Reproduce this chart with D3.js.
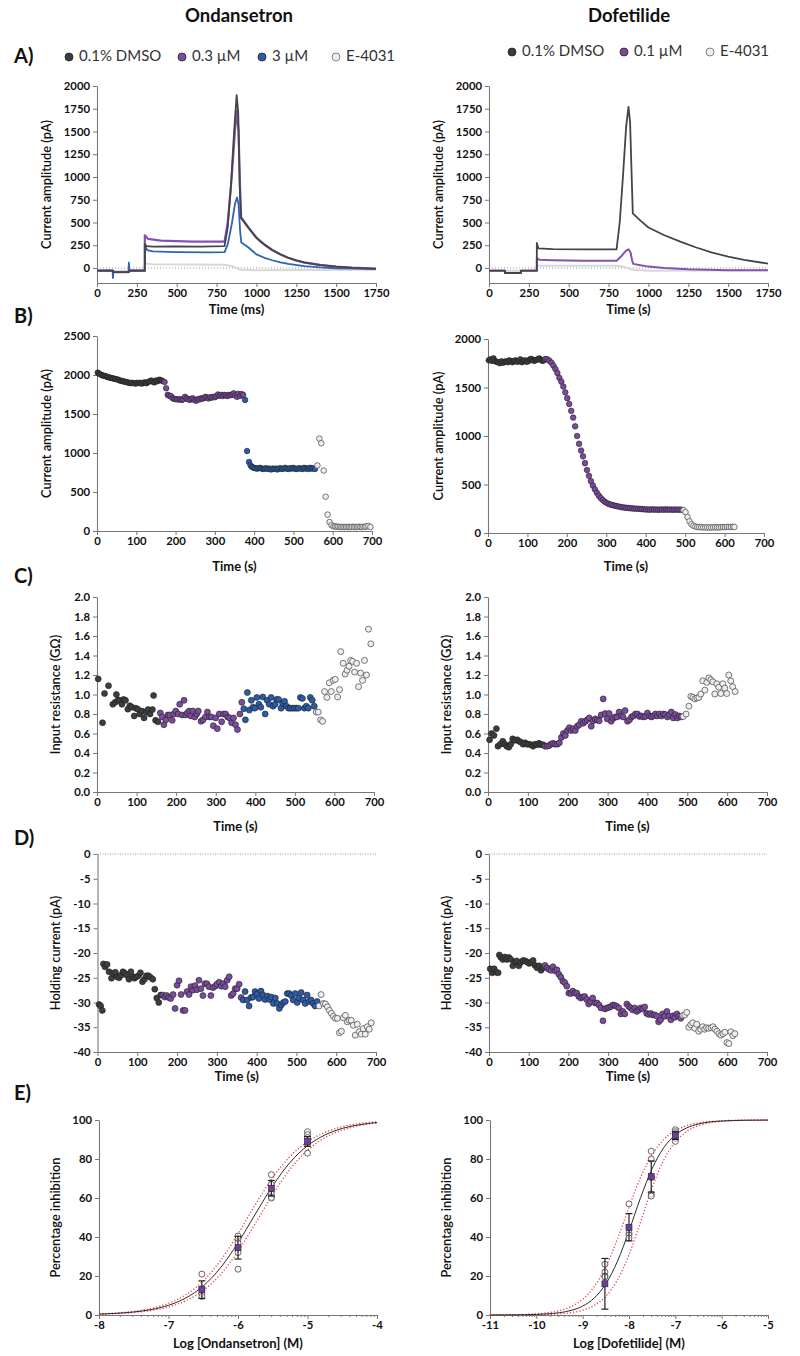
<!DOCTYPE html>
<html><head><meta charset="utf-8">
<script src="https://cdn.jsdelivr.net/npm/d3@7"></script>
<style>body{margin:0;background:#fff}svg{display:block}</style>
</head><body>
<svg id="c" width="800" height="1356"></svg>
<script>
// ---------------- DATA ----------------
const drugs = ["Ondansetron", "Dofetilide"];
const legendLeft = ["0.1% DMSO", "0.3 µM", "3 µM", "E-4031"];
const legendRight = ["0.1% DMSO", "0.1 µM", "E-4031"];
const traceTicks = [0,250,500,750,1000,1250,1500,1750];
const traceYTicks = [0,250,500,750,1000,1250,1500,1750,2000];
const timeTicks = [0,100,200,300,400,500,600,700];

// Panel A traces [time ms, current pA]
const aL_dmso = [[0,-30],[100,-30],[100,-45],[200,-45],[200,-30],[300,-30],[300,265],[310,240],[350,235],[500,238],[650,235],[800,240],[820,450],[840,900],[860,1500],[876,1900],[886,1700],[895,900],[903,550],[950,440],[1000,330],[1050,255],[1100,195],[1150,148],[1200,110],[1250,82],[1300,60],[1400,32],[1500,14],[1600,2],[1750,-10]];
const aL_p03 = [[0,-30],[100,-30],[100,-45],[200,-45],[200,-30],[300,-30],[300,360],[320,320],[400,300],[600,290],[800,290],[820,500],[845,1000],[865,1500],[877,1730],[888,1500],[897,900],[904,560],[950,445],[1000,335],[1050,258],[1100,198],[1150,150],[1200,112],[1250,85],[1300,62],[1400,35],[1500,16],[1600,4],[1750,-8]];
const aL_p3 = [[0,-30],[98,-30],[100,-110],[102,-45],[198,-45],[200,60],[202,-30],[300,-30],[300,250],[315,195],[350,182],[500,175],[700,172],[800,175],[820,260],[845,480],[865,700],[878,775],[888,700],[898,400],[905,280],[950,225],[1000,150],[1050,112],[1100,85],[1150,62],[1200,45],[1300,20],[1400,6],[1500,-3],[1750,-10]];
const aL_e4031 = [[0,-30],[300,-30],[300,50],[350,42],[800,35],[850,20],[900,-20],[1000,-25],[1750,-20]];
const aR_dmso = [[0,-30],[100,-30],[100,-55],[200,-55],[200,-30],[300,-30],[300,275],[310,215],[400,208],[600,205],[800,205],[820,500],[840,1000],[860,1550],[875,1770],[885,1600],[895,1000],[902,600],[950,520],[1000,445],[1100,360],[1200,290],[1300,225],[1400,170],[1500,125],[1600,90],[1750,48]];
const aR_p01 = [[0,-30],[100,-30],[100,-55],[200,-55],[200,-30],[300,-30],[300,110],[315,90],[400,85],[600,80],[800,80],[830,130],[860,190],[875,205],[888,170],[898,80],[905,45],[950,30],[1000,15],[1100,0],[1250,-15],[1500,-25],[1750,-25]];
const aR_e4031 = [[0,-30],[300,-30],[300,25],[800,25],[850,10],[900,-20],[1000,-30],[1750,-25]];

// Panel B: peak current [time s, pA]
const bL_dmso = [[2,2030],[6,2015],[10,2005],[14,1995],[18,1990],[22,1985],[26,1975],[30,1970],[34,1965],[38,1960],[42,1955],[46,1950],[50,1945],[54,1940],[58,1930],[62,1925],[66,1920],[70,1915],[74,1910],[78,1905],[82,1900],[86,1895],[90,1900],[94,1895],[98,1890],[102,1900],[106,1895],[110,1900],[114,1890],[118,1900],[122,1905],[126,1895],[130,1910],[134,1920],[138,1930],[142,1915],[146,1905],[150,1930],[154,1920],[158,1940],[162,1935],[166,1925]];
const bL_p03 = [[172,1910],[176,1830],[180,1745],[184,1735],[188,1730],[192,1705],[196,1695],[200,1690],[204,1690],[208,1685],[212,1690],[216,1680],[220,1690],[224,1720],[228,1700],[232,1690],[236,1680],[240,1695],[244,1700],[248,1680],[252,1670],[256,1690],[260,1685],[264,1700],[268,1695],[272,1705],[276,1720],[280,1710],[284,1700],[288,1715],[292,1710],[296,1720],[300,1715],[304,1730],[308,1750],[312,1735],[316,1745],[320,1730],[324,1745],[328,1740],[332,1730],[336,1745],[340,1740],[344,1750],[348,1765],[352,1740],[356,1720],[360,1760],[364,1730],[368,1755],[372,1745]];
const bL_p3 = [[377,1680],[382,1025],[387,885],[391,840],[395,820],[399,810],[403,805],[407,800],[411,805],[415,810],[419,800],[423,795],[427,800],[431,805],[435,795],[439,800],[443,790],[447,800],[451,795],[455,800],[459,790],[463,800],[467,805],[471,795],[475,800],[479,810],[483,800],[487,795],[491,805],[495,800],[499,810],[503,800],[507,795],[511,800],[515,805],[519,800],[523,795],[527,810],[531,800],[535,805],[539,795],[543,810],[547,800],[551,805],[555,795]];
const bL_e4031 = [[561,840],[566,1185],[571,1125],[577,775],[582,440],[587,210],[592,115],[597,75],[602,60],[606,58],[610,55],[614,55],[618,52],[622,50],[626,52],[630,50],[634,52],[638,50],[642,52],[646,50],[650,55],[654,50],[658,52],[662,50],[666,55],[670,52],[674,50],[678,55],[682,52],[686,60],[691,64],[696,51]];
const bR_dmso = [[2,1780],[6,1790],[10,1775],[14,1800],[18,1770],[22,1765],[26,1760],[30,1750],[34,1770],[38,1755],[42,1765],[46,1770],[50,1760],[54,1780],[58,1770],[62,1760],[66,1775],[70,1780],[74,1765],[78,1770],[82,1790],[86,1760],[90,1775],[94,1780],[98,1765],[102,1770],[106,1790],[110,1795],[114,1780],[118,1775],[122,1785],[126,1790],[130,1800],[134,1785],[138,1775],[142,1780]];
const bR_p01 = [[146,1795],[151,1790],[156,1775],[161,1755],[166,1725],[171,1690],[176,1650],[181,1600],[186,1560],[191,1510],[196,1450],[201,1390],[206,1330],[211,1260],[216,1190],[221,1100],[226,1000],[231,920],[236,850],[241,790],[246,720],[251,650],[256,590],[261,535],[266,490],[271,450],[276,415],[281,385],[286,360],[291,340],[296,322],[301,310],[306,300],[311,293],[316,288],[321,282],[326,278],[331,273],[336,268],[341,265],[346,262],[351,260],[356,258],[361,255],[366,254],[371,252],[376,250],[381,250],[386,248],[391,246],[396,245],[401,242],[406,243],[411,240],[416,244],[421,241],[426,242],[431,240],[436,241],[441,243],[446,240],[451,244],[456,240],[461,242],[466,241],[471,240],[476,243],[481,240],[486,241],[491,240]];
const bR_e4031 = [[496,235],[501,215],[506,165],[511,120],[516,90],[521,75],[526,66],[531,62],[536,60],[541,60],[546,58],[551,58],[556,57],[561,58],[566,57],[571,58],[576,60],[581,57],[586,58],[591,60],[596,62],[601,60],[606,63],[611,62],[616,62],[621,64],[625,62]];

// Panel C: input resistance [time s, GΩ]
const cL_dmso = [[3,1.16],[14,0.71],[19,1.01],[29,1.09],[40,0.90],[46,0.92],[49,1.00],[53,0.94],[57,0.94],[63,0.90],[67,0.95],[72,0.94],[78,0.85],[83,0.885],[88,0.87],[94,0.78],[98,0.86],[103,0.85],[108,0.80],[114,0.83],[119,0.76],[124,0.82],[129,0.845],[134,0.80],[140,0.845],[143,0.99],[148,0.735],[154,0.72]];
const cL_p03 = [[160,0.81],[165,0.77],[169,0.69],[174,0.74],[179,0.79],[184,0.79],[190,0.735],[194,0.80],[199,0.83],[205,0.80],[209,0.90],[215,0.79],[220,0.94],[224,0.79],[228,0.81],[233,0.83],[237,0.78],[242,0.83],[247,0.77],[252,0.80],[256,0.83],[263,0.725],[268,0.74],[274,0.77],[279,0.82],[284,0.77],[289,0.77],[294,0.68],[300,0.76],[304,0.65],[309,0.80],[315,0.72],[320,0.80],[325,0.80],[330,0.77],[335,0.76],[340,0.71],[345,0.76],[350,0.69],[355,0.64],[361,0.80],[366,0.92]];
const cL_p3 = [[371,0.855],[375,0.74],[380,1.02],[385,0.84],[390,0.94],[394,0.87],[399,0.86],[404,0.97],[409,0.90],[414,0.87],[419,0.975],[425,0.80],[430,0.94],[435,0.90],[440,0.97],[445,0.88],[450,0.90],[454,0.95],[459,0.95],[465,0.86],[469,0.91],[474,0.93],[479,0.88],[484,0.86],[489,0.86],[494,0.86],[499,0.86],[504,0.86],[509,0.86],[514,0.97],[519,0.96],[524,0.86],[529,0.88],[534,0.86],[539,0.97],[544,0.94],[549,0.88]];
const cL_e4031 = [[554,0.82],[559,0.82],[565,0.74],[570,0.725],[575,1.03],[581,0.97],[587,1.12],[592,1.03],[597,1.145],[602,1.155],[608,0.975],[613,1.05],[616,1.44],[622,1.32],[627,1.21],[632,1.25],[637,1.29],[641,1.35],[646,1.34],[651,1.23],[656,1.32],[661,1.08],[666,1.22],[671,1.145],[676,1.35],[681,1.20],[686,1.67],[692,1.52]];
const cR_dmso = [[4,0.535],[9,0.60],[15,0.58],[21,0.65],[25,0.47],[31,0.49],[37,0.52],[42,0.49],[47,0.47],[52,0.46],[57,0.49],[62,0.545],[67,0.53],[73,0.535],[78,0.52],[83,0.51],[88,0.49],[93,0.505],[98,0.49],[103,0.49],[108,0.485],[113,0.47],[118,0.49],[123,0.485],[128,0.50],[133,0.485],[138,0.485]];
const cR_p01 = [[143,0.47],[148,0.47],[153,0.475],[158,0.49],[163,0.50],[168,0.49],[174,0.49],[179,0.505],[184,0.56],[189,0.60],[194,0.58],[199,0.63],[204,0.66],[209,0.63],[214,0.65],[219,0.63],[224,0.675],[229,0.69],[234,0.725],[239,0.705],[244,0.725],[249,0.74],[254,0.76],[259,0.675],[264,0.73],[269,0.75],[274,0.74],[279,0.73],[284,0.79],[289,0.955],[294,0.805],[299,0.75],[304,0.805],[309,0.725],[314,0.755],[319,0.77],[324,0.77],[329,0.82],[334,0.78],[339,0.77],[344,0.835],[350,0.725],[355,0.74],[360,0.77],[365,0.78],[370,0.80],[375,0.80],[380,0.775],[385,0.78],[390,0.77],[395,0.775],[400,0.81],[405,0.78],[410,0.77],[415,0.78],[420,0.80],[425,0.78],[430,0.80],[435,0.78],[440,0.80],[445,0.795],[450,0.77],[455,0.795],[460,0.82],[465,0.76],[470,0.795],[475,0.76],[480,0.78],[485,0.77]];
const cR_e4031 = [[490,0.775],[497,0.80],[504,0.88],[509,0.98],[514,0.97],[519,0.955],[524,0.965],[529,0.97],[534,1.005],[539,1.14],[544,1.045],[549,1.125],[554,1.17],[559,1.15],[564,1.13],[569,1.005],[574,1.11],[579,1.075],[584,1.01],[589,1.11],[594,1.065],[599,1.01],[604,1.20],[609,1.14],[614,1.08],[620,1.03]];

// Panel D: holding current [time s, pA]
const dL_dmso = [[4,-30.4],[8,-30.7],[12,-31.6],[15,-22.2],[19,-22.8],[24,-22.3],[29,-23.8],[35,-25.1],[39,-24.1],[45,-23.9],[49,-24.8],[54,-25.0],[59,-24.5],[64,-23.8],[69,-24.1],[74,-24.5],[79,-25.3],[84,-23.8],[89,-24.8],[93,-25.1],[98,-24.8],[103,-24.6],[108,-24.0],[113,-25.8],[118,-25.3],[123,-24.6],[128,-24.6],[133,-24.9],[139,-25.3],[144,-27.3],[149,-29.1],[154,-30.0],[159,-28.5]];
const dL_p03 = [[164,-28.5],[169,-28.9],[174,-28.6],[179,-29.0],[184,-29.2],[190,-28.4],[195,-31.2],[200,-26.5],[205,-25.6],[210,-28.4],[215,-31.6],[220,-31.6],[225,-27.8],[230,-28.4],[235,-26.8],[240,-27.5],[245,-26.6],[250,-27.4],[255,-25.5],[260,-27.2],[265,-28.6],[270,-26.2],[275,-26.2],[280,-26.8],[285,-28.6],[290,-27.0],[296,-26.7],[300,-26.3],[306,-25.9],[311,-26.7],[316,-26.2],[321,-26.8],[326,-25.5],[331,-24.8],[336,-28.6],[341,-28.2],[346,-27.2],[351,-27.2],[356,-26.3],[361,-29.0]];
const dL_p3 = [[366,-29.5],[371,-27.8],[376,-29.5],[381,-30.7],[386,-29.0],[391,-28.9],[396,-27.8],[401,-28.3],[406,-29.2],[411,-27.7],[416,-28.5],[421,-29.4],[427,-28.7],[432,-29.4],[437,-28.9],[442,-30.2],[447,-29.1],[452,-30.2],[457,-31.2],[462,-30.5],[467,-30.0],[472,-29.8],[477,-28.2],[482,-28.2],[487,-28.6],[492,-29.5],[497,-28.2],[502,-30.0],[507,-29.1],[512,-28.0],[517,-29.5],[522,-30.2],[527,-28.5],[532,-29.8],[537,-29.5],[542,-30.2],[547,-30.7],[552,-29.8]];
const dL_e4031 = [[557,-30.7],[562,-28.4],[568,-30.2],[573,-30.3],[578,-30.9],[583,-31.6],[588,-32.2],[593,-32.8],[598,-33.2],[603,-33.2],[608,-36.1],[613,-35.8],[618,-33.1],[623,-32.6],[628,-33.9],[633,-33.6],[638,-33.6],[643,-34.6],[648,-36.6],[653,-34.4],[658,-35.9],[663,-36.4],[668,-35.3],[673,-36.4],[678,-34.9],[683,-35.4],[688,-34.1]];
const dR_dmso = [[3,-23.2],[8,-24.0],[13,-23.2],[18,-23.9],[23,-24.0],[26,-20.4],[30,-20.9],[35,-21.3],[40,-20.8],[45,-21.3],[50,-20.9],[55,-21.3],[60,-22.6],[65,-21.8],[70,-21.6],[75,-22.6],[80,-21.9],[86,-21.5],[91,-21.6],[96,-21.8],[101,-22.1],[106,-21.9],[111,-21.5],[116,-22.5],[121,-23.0],[126,-22.6],[131,-23.5],[136,-23.0]];
const dR_p01 = [[141,-22.5],[146,-23.0],[151,-23.3],[156,-23.5],[161,-22.8],[166,-23.6],[171,-23.4],[176,-24.3],[181,-24.9],[186,-25.7],[191,-26.0],[196,-26.7],[201,-28.1],[206,-28.2],[211,-27.7],[216,-28.1],[221,-28.1],[226,-28.8],[231,-29.1],[236,-28.9],[241,-28.8],[246,-29.4],[251,-30.3],[256,-29.8],[261,-29.1],[267,-30.1],[272,-30.1],[277,-30.5],[282,-31.1],[287,-33.7],[292,-31.3],[297,-31.1],[302,-31.0],[307,-30.8],[312,-30.5],[317,-30.6],[322,-30.8],[327,-31.1],[332,-32.3],[337,-31.8],[342,-32.3],[347,-30.3],[352,-30.8],[357,-31.1],[362,-31.5],[367,-31.1],[372,-31.8],[377,-31.5],[382,-31.1],[387,-31.3],[392,-30.9],[397,-32.2],[402,-32.4],[407,-32.2],[412,-32.5],[417,-32.5],[422,-32.7],[427,-33.9],[432,-33.5],[437,-32.3],[442,-32.8],[448,-31.8],[453,-32.8],[458,-33.5],[463,-32.7],[468,-33.0],[473,-32.3],[478,-32.8],[483,-33.2]];
const dR_e4031 = [[488,-32.6],[493,-32.5],[498,-32.0],[503,-35.0],[508,-34.5],[513,-34.1],[518,-35.2],[523,-34.4],[528,-35.8],[533,-35.4],[538,-34.9],[543,-35.4],[548,-35.1],[553,-35.2],[559,-35.1],[564,-34.9],[569,-35.4],[574,-35.8],[579,-36.3],[584,-36.6],[589,-36.3],[594,-36.0],[599,-38.1],[604,-38.3],[609,-35.9],[614,-36.7],[619,-36.3]];

// Panel E: concentration-response
const eL_logConc = [-6.52, -6, -5.52, -5];
const eL_mean = [13, 34.5, 65, 89];
const eL_sem = [4.5, 5.8, 4, 2.5];
const eL_points = [[21,13.5,11,9.5],[40.5,39,37,32,23.5],[72,67,62,60.5,60],[94,92.5,91,88,83]];
const eL_fitX = [-8,-7.75,-7.5,-7.25,-7,-6.75,-6.5,-6.25,-6,-5.75,-5.5,-5.25,-5,-4.75,-4.5,-4.25,-4];
const eL_fit = [0.47,0.85,1.54,2.78,4.98,8.75,14.9,24.3,37.0,51.8,66.3,78.3,86.8,92.3,95.7,97.6,98.7];
const eL_ciUpper = [0.56,1.03,1.86,3.35,5.97,10.4,17.5,28.0,41.6,56.6,70.5,81.4,88.9,93.6,96.6,98.2,99.1];
const eL_ciLower = [0.38,0.70,1.27,2.30,4.13,7.32,12.6,20.9,32.6,47.0,61.8,74.8,84.5,90.9,94.8,97.1,98.4];
const eR_logConc = [-8.52, -8, -7.52, -7];
const eR_mean = [16, 45, 71, 92];
const eR_sem = [13, 7, 8, 2];
const eR_points = [[26,22,20,19.5],[57,42,41,39.5],[84,80,70.5,62,61],[95,94,93,90.5,89]];
const eR_fitX = [-11,-10.5,-10,-9.75,-9.5,-9.25,-9,-8.75,-8.5,-8.25,-8,-7.75,-7.5,-7.25,-7,-6.75,-6.5,-6,-5.5,-5];
const eR_fit = [0.02,0.08,0.30,0.60,1.19,2.34,4.57,8.72,16.0,27.5,43.1,60.2,75.1,85.8,92.3,96.0,97.95,99.48,99.87,99.97];
const eR_ciUpper = [0.04,0.16,0.62,1.19,2.28,4.32,8.05,14.5,24.8,38.9,55.3,70.6,82.3,90.0,94.6,97.1,98.5,99.6,99.9,99.98];
const eR_ciLower = [0.01,0.03,0.14,0.29,0.59,1.21,2.45,4.9,9.6,17.9,30.9,47.8,65.3,79.5,88.8,94.2,97.1,99.3,99.83,99.96];

// ---------------- STYLE ----------------
const FONT = "Lato, 'DejaVu Sans', sans-serif";
const COL = {dmso:"#3d3d3d", purple:"#7b4b9e", blue:"#2c5ca8", e4031:"#eeeeee",
             trDmso:"#454545", trPurple:"#8452b0", trBlue:"#2f62bb", trE:"#d8d8d8"};
const svg = d3.select("#c");

function panel(p) {
  const g = svg.append("g");
  const x = d3.scaleLinear().domain(p.xd).range([p.x0, p.x1]);
  const y = d3.scaleLinear().domain(p.yd).range([p.yb, p.yt]);
  const fmt = p.fmt || (d => String(d));
  g.append("g").attr("transform", `translate(0,${p.yb})`)
    .call(d3.axisBottom(x).tickValues(p.xticks).tickSize(4).tickSizeOuter(0).tickPadding(2).tickFormat(p.xfmt || (d => String(d))));
  if (p.minor) {
    g.append("g").attr("transform", `translate(0,${p.yb})`)
      .call(d3.axisBottom(x).tickValues(p.minor).tickSize(2).tickFormat("")).select(".domain").remove();
  }
  g.append("g").attr("transform", `translate(${p.x0},0)`)
    .call(d3.axisLeft(y).tickValues(p.yticks).tickSize(4).tickSizeOuter(0).tickPadding(3).tickFormat(fmt));
  g.selectAll(".domain").attr("stroke", "#777").attr("stroke-width", 1.1);
  g.selectAll(".tick line").attr("stroke", "#777").attr("stroke-width", 1);
  g.selectAll(".tick text").attr("font-family", FONT).attr("font-weight", 700)
    .attr("font-size", 11.3).attr("fill", "#111");
  g.append("text").attr("x", (p.x0 + p.x1) / 2).attr("y", p.xly)
    .attr("text-anchor", "middle").attr("dominant-baseline", "middle")
    .attr("font-family", FONT).attr("font-weight", 700).attr("font-size", 13).attr("fill", "#111")
    .text(p.xlabel);
  g.append("text").attr("transform", `translate(${p.ylx},${(p.yb + p.yt) / 2}) rotate(-90)`)
    .attr("text-anchor", "middle").attr("dominant-baseline", "middle")
    .attr("font-family", FONT).attr("font-weight", 600).attr("font-size", 12.8).attr("fill", "#111")
    .text(p.ylabel);
  return {g, x, y};
}

function traces(P, list) {
  P.g.append("line").attr("x1", P.x(0)).attr("x2", P.x(1750)).attr("y1", P.y(0)).attr("y2", P.y(0))
    .attr("stroke", "#999").attr("stroke-width", 1).attr("stroke-dasharray", "1,2");
  const line = d3.line().x(d => P.x(d[0])).y(d => P.y(d[1]));
  list.forEach(([data, col, w]) => {
    P.g.append("path").attr("d", line(data)).attr("fill", "none")
      .attr("stroke", col).attr("stroke-width", w).attr("stroke-linejoin", "round");
  });
}

function scatter(P, groups, r) {
  groups.forEach(([data, fill]) => {
    P.g.append("g").selectAll("circle").data(data).join("circle")
      .attr("cx", d => P.x(d[0])).attr("cy", d => P.y(d[1])).attr("r", r)
      .attr("fill", fill).attr("stroke", fill === COL.e4031 ? "#555" : "#1e1e1e")
      .attr("stroke-width", fill === COL.e4031 ? 0.8 : 0.6);
  });
}

function doseResp(P, conc, mean, sem, pts, fx, fit, up, lo) {
  const line = d3.line().x((d, i) => P.x(fx[i])).y(d => P.y(d)).curve(d3.curveMonotoneX);
  [up, lo].forEach(arr => P.g.append("path").attr("d", line(arr)).attr("fill", "none")
    .attr("stroke", "#ee3b40").attr("stroke-width", 1.3).attr("stroke-dasharray", "1.2,2"));
  P.g.append("path").attr("d", line(fit)).attr("fill", "none").attr("stroke", "#2a2a2a").attr("stroke-width", 1);
  conc.forEach((c, i) => {
    pts[i].forEach(v => P.g.append("circle").attr("cx", P.x(c)).attr("cy", P.y(v)).attr("r", 3)
      .attr("fill", "#fff").attr("fill-opacity", 0.6).attr("stroke", "#555").attr("stroke-width", 0.9));
    const cx = P.x(c), yTop = P.y(mean[i] + sem[i]), yBot = P.y(mean[i] - sem[i]);
    P.g.append("line").attr("x1", cx).attr("x2", cx).attr("y1", yTop).attr("y2", yBot).attr("stroke", "#222").attr("stroke-width", 1.2);
    [yTop, yBot].forEach(yy => P.g.append("line").attr("x1", cx - 3.5).attr("x2", cx + 3.5).attr("y1", yy).attr("y2", yy)
      .attr("stroke", "#222").attr("stroke-width", 1.2));
    P.g.append("rect").attr("x", cx - 3).attr("y", P.y(mean[i]) - 3).attr("width", 6).attr("height", 6)
      .attr("fill", "#6e3f96").attr("stroke", "#2a1a3a").attr("stroke-width", 0.6);
  });
}

// ---------------- TITLES / LETTERS / LEGENDS ----------------
[[239, drugs[0]], [629, drugs[1]]].forEach(([x, t]) =>
  svg.append("text").attr("x", x).attr("y", 17).attr("text-anchor", "middle").attr("dominant-baseline", "middle")
    .attr("font-family", FONT).attr("font-weight", 700).attr("font-size", 18.5).attr("fill", "#111").text(t));
[["A)", 63], ["B)", 323], ["C)", 583], ["D)", 845], ["E)", 1100]].forEach(([t, y]) =>
  svg.append("text").attr("x", 14).attr("y", y).attr("font-family", FONT).attr("font-weight", 700)
    .attr("font-size", 20).attr("fill", "#111").text(t));

function legend(items, y) {
  items.forEach(([label, fill, mx]) => {
    svg.append("circle").attr("cx", mx).attr("cy", y).attr("r", 4)
      .attr("fill", fill).attr("stroke", fill === COL.e4031 ? "#666" : "#222").attr("stroke-width", 0.8);
    svg.append("text").attr("x", mx + 10).attr("y", y).attr("dominant-baseline", "middle")
      .attr("font-family", FONT).attr("font-size", 15).attr("fill", "#333").text(label);
  });
}
legend([[legendLeft[0], COL.dmso, 69], [legendLeft[1], COL.purple, 182], [legendLeft[2], COL.blue, 262], [legendLeft[3], COL.e4031, 336]], 57);
legend([[legendRight[0], COL.dmso, 512], [legendRight[1], COL.purple, 624], [legendRight[2], COL.e4031, 710]], 52);

// ---------------- PANELS ----------------
const AL = panel({x0:97, x1:376, yb:283, yt:86, xd:[0,1750], yd:[-165,2000], xticks:traceTicks, yticks:traceYTicks,
  xlabel:"Time (ms)", xly:311, ylabel:"Current amplitude (pA)", ylx:48});
traces(AL, [[aL_e4031, COL.trE, 2], [aL_p3, COL.trBlue, 1.8], [aL_p03, COL.trPurple, 2.2], [aL_dmso, COL.trDmso, 1.8]]);
const AR = panel({x0:489, x1:768, yb:283, yt:86, xd:[0,1750], yd:[-165,2000], xticks:traceTicks, yticks:traceYTicks,
  xlabel:"Time (s)", xly:311, ylabel:"Current amplitude (pA)", ylx:440});
traces(AR, [[aR_e4031, COL.trE, 2], [aR_p01, COL.trPurple, 2], [aR_dmso, COL.trDmso, 1.8]]);

const BL = panel({x0:97, x1:372, yb:531, yt:336, xd:[0,700], yd:[0,2500], xticks:timeTicks, yticks:[0,500,1000,1500,2000,2500],
  xlabel:"Time (s)", xly:568, ylabel:"Current amplitude (pA)", ylx:48});
scatter(BL, [[bL_dmso, COL.dmso], [bL_p03, COL.purple], [bL_p3, COL.blue], [bL_e4031, COL.e4031]], 2.8);
const BR = panel({x0:488, x1:764, yb:533, yt:339, xd:[0,700], yd:[0,2000], xticks:timeTicks, yticks:[0,500,1000,1500,2000],
  xlabel:"Time (s)", xly:568, ylabel:"Current amplitude (pA)", ylx:440});
scatter(BR, [[bR_dmso, COL.dmso], [bR_p01, COL.purple], [bR_e4031, COL.e4031]], 2.8);

const rTicks = [0,0.2,0.4,0.6,0.8,1.0,1.2,1.4,1.6,1.8,2.0];
const CL = panel({x0:97, x1:374, yb:792, yt:597, xd:[0,700], yd:[0,2], xticks:timeTicks, yticks:rTicks, fmt:d3.format(".1f"),
  xlabel:"Time (s)", xly:828, ylabel:"Input resistance (GΩ)", ylx:57});
scatter(CL, [[cL_dmso, COL.dmso], [cL_p03, COL.purple], [cL_p3, COL.blue], [cL_e4031, COL.e4031]], 3);
const CR = panel({x0:488, x1:767, yb:792, yt:597, xd:[0,700], yd:[0,2], xticks:timeTicks, yticks:rTicks, fmt:d3.format(".1f"),
  xlabel:"Time (s)", xly:828, ylabel:"Input resistance (GΩ)", ylx:448});
scatter(CR, [[cR_dmso, COL.dmso], [cR_p01, COL.purple], [cR_e4031, COL.e4031]], 3);

const hTicks = [-40,-35,-30,-25,-20,-15,-10,-5,0];
function zeroLine(P) {
  P.g.append("line").attr("x1", P.x(0)).attr("x2", P.x(700)).attr("y1", P.y(0)).attr("y2", P.y(0))
    .attr("stroke", "#999").attr("stroke-width", 1).attr("stroke-dasharray", "1,1.5");
}
const DL = panel({x0:97.5, x1:376, yb:1052, yt:854, xd:[0,700], yd:[-40,0], xticks:timeTicks, yticks:hTicks,
  xlabel:"Time (s)", xly:1078, ylabel:"Holding current (pA)", ylx:57});
zeroLine(DL);
scatter(DL, [[dL_dmso, COL.dmso], [dL_p03, COL.purple], [dL_p3, COL.blue], [dL_e4031, COL.e4031]], 3);
const DR = panel({x0:489, x1:767, yb:1052, yt:854, xd:[0,700], yd:[-40,0], xticks:timeTicks, yticks:hTicks,
  xlabel:"Time (s)", xly:1078, ylabel:"Holding current (pA)", ylx:448});
zeroLine(DR);
scatter(DR, [[dR_dmso, COL.dmso], [dR_p01, COL.purple], [dR_e4031, COL.e4031]], 3);

function minorTicks(a, b) {
  const out = [];
  for (let n = a; n < b; n++) for (let k = 2; k <= 9; k++) out.push(n + Math.log10(k));
  return out;
}
const EL = panel({x0:99, x1:377, yb:1315, yt:1120, xd:[-8,-4], yd:[0,100], xticks:[-8,-7,-6,-5,-4], minor:minorTicks(-8,-4),
  yticks:[0,20,40,60,80,100], xlabel:"Log [Ondansetron] (M)", xly:1345, ylabel:"Percentage inhibition", ylx:57});
doseResp(EL, eL_logConc, eL_mean, eL_sem, eL_points, eL_fitX, eL_fit, eL_ciUpper, eL_ciLower);
const ER = panel({x0:490, x1:768, yb:1315, yt:1120, xd:[-11,-5], yd:[0,100], xticks:[-11,-10,-9,-8,-7,-6,-5], minor:minorTicks(-11,-5),
  yticks:[0,20,40,60,80,100], xlabel:"Log [Dofetilide] (M)", xly:1345, ylabel:"Percentage inhibition", ylx:448});
doseResp(ER, eR_logConc, eR_mean, eR_sem, eR_points, eR_fitX, eR_fit, eR_ciUpper, eR_ciLower);
</script>
</body></html>
